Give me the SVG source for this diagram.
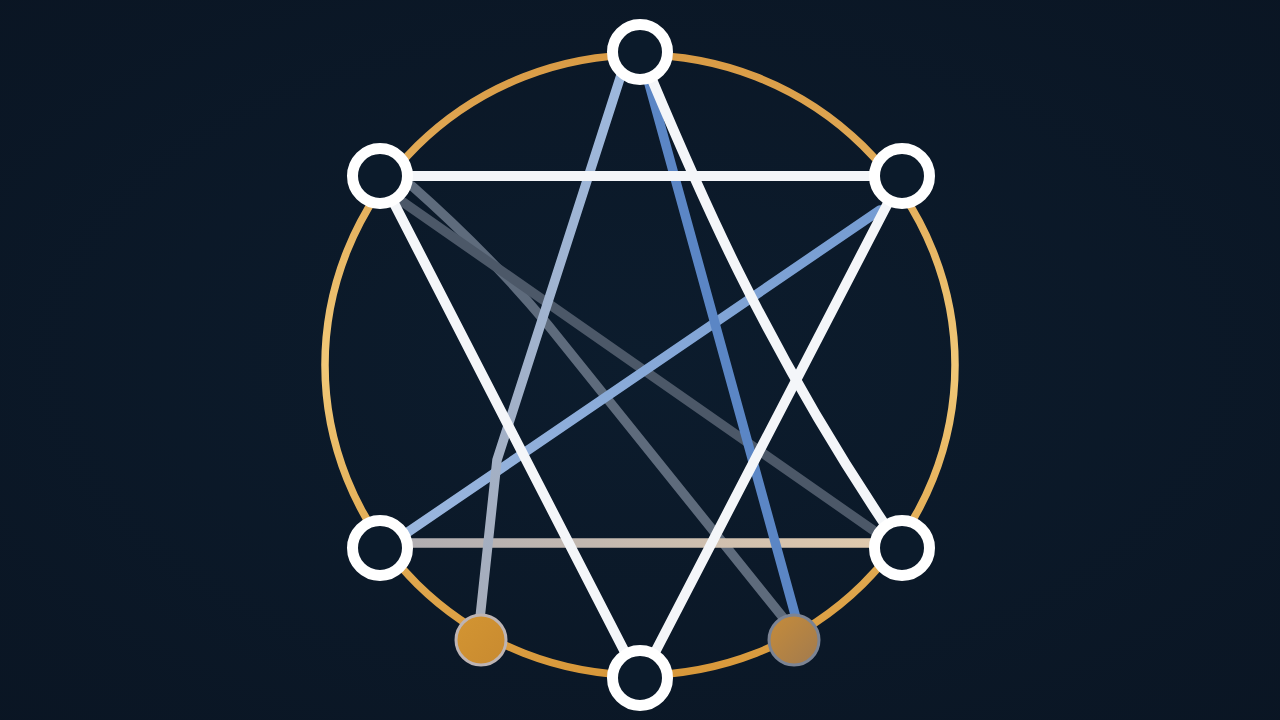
<svg xmlns="http://www.w3.org/2000/svg" width="1280" height="720" viewBox="0 0 1280 720">
<defs>
<radialGradient id="bg" cx="50%" cy="50%" r="75%">
<stop offset="0" stop-color="#0c1c2d"/>
<stop offset="1" stop-color="#0a1523"/>
</radialGradient>
<linearGradient id="gold" x1="0" y1="0" x2="0" y2="1">
<stop offset="0" stop-color="#d99b45"/>
<stop offset="0.5" stop-color="#f1c878"/>
<stop offset="1" stop-color="#d8983a"/>
</linearGradient>
<linearGradient id="hgrey" gradientUnits="userSpaceOnUse" x1="380" y1="543" x2="902" y2="543">
<stop offset="0" stop-color="#aeacb2"/>
<stop offset="1" stop-color="#e2cbad"/>
</linearGradient>
<linearGradient id="lblue" x1="0" y1="0" x2="0" y2="1">
<stop offset="0" stop-color="#9cb8de"/>
<stop offset="1" stop-color="#a6adbb"/>
</linearGradient>
<linearGradient id="diag" x1="0" y1="1" x2="1" y2="0">
<stop offset="0" stop-color="#9ab6de"/>
<stop offset="1" stop-color="#759cd2"/>
</linearGradient>
<linearGradient id="g1" x1="0" y1="0" x2="1" y2="1">
<stop offset="0" stop-color="#d39532"/>
<stop offset="1" stop-color="#c88a30"/>
</linearGradient>
<linearGradient id="g2" x1="0" y1="0" x2="1" y2="1">
<stop offset="0" stop-color="#c68c3a"/>
<stop offset="1" stop-color="#a17a4e"/>
</linearGradient>
</defs>
<style>
.w{stroke:#f4f6f9;stroke-width:10;fill:none;stroke-linecap:round}
.l{stroke-width:9.5;fill:none;stroke-linecap:round}
.ring{fill:#0b1a2a;stroke:#ffffff;stroke-width:11}
</style>
<rect width="1280" height="720" fill="url(#bg)"/>
<ellipse id="orbit" cx="640" cy="365" rx="315" ry="310" fill="none" stroke="url(#gold)" stroke-width="7.5"/>
<g id="connectors">
<path class="l" d="M412 186 Q490 255 548 325 L785 620" stroke="#5e6b7c"/>
<path class="l" d="M400 200 L880 535" stroke="#4c5868"/>
<path class="l" d="M380 543 L902 543" stroke="url(#hgrey)" stroke-width="10"/>
<path class="l" d="M408 532 L880 210" stroke="url(#diag)"/>
<path class="l" d="M622 72 L497 460 L480 618" stroke="url(#lblue)"/>
<path class="l" d="M648 80 L796 618" stroke="#5b86c5"/>
<path class="w" d="M380 176 L902 176"/>
<path class="w" d="M380 176 L630 662"/>
<path class="w" d="M902 176 L650 662"/>
<path class="w" d="M648 70 C690 170 760 340 890 532"/>
</g>
<g id="n-top"><circle class="ring" cx="640" cy="52" r="27.5"/></g>
<g id="n-lt"><circle class="ring" cx="380" cy="176" r="27.5"/></g>
<g id="n-rt"><circle class="ring" cx="902" cy="176" r="27.5"/></g>
<g id="n-lb"><circle class="ring" cx="380" cy="548" r="27.5"/></g>
<g id="n-rb"><circle class="ring" cx="902" cy="548" r="27.5"/></g>
<g id="n-bottom"><circle class="ring" cx="640" cy="678" r="27.5"/></g>
<g id="g-left"><circle cx="481" cy="640" r="25" fill="url(#g1)" stroke="#bdb4b4" stroke-width="3"/></g>
<g id="g-right"><circle cx="794" cy="640" r="25" fill="url(#g2)" stroke="#7c8494" stroke-width="3"/></g>
</svg>
